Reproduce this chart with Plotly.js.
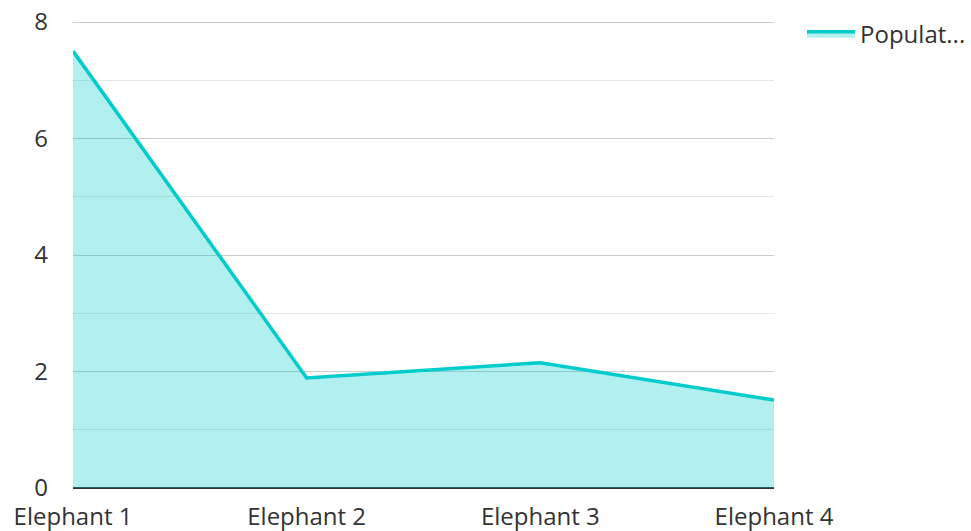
<!DOCTYPE html>
<html>
<head>
<meta charset="utf-8">
<script src="https://cdn.plot.ly/plotly-3.0.1.min.js"></script>
<style>html,body{margin:0;padding:0;background:#fff;}#chart{width:971px;height:531px;}</style>
</head>
<body>
<div id="chart"></div>
<script>
const categories = ["Elephant 1", "Elephant 2", "Elephant 3", "Elephant 4"];
const population = [7.5, 1.89, 2.15, 1.51];
const seriesName = "Populat...";
const yTicks = [0, 2, 4, 6, 8];

const trace = {
  x: categories,
  y: population,
  name: seriesName,
  type: "scatter",
  mode: "lines",
  fill: "tozeroy",
  fillcolor: "rgba(0,204,204,0.3)",
  line: {color: "rgb(0,204,204)", width: 3.5},
  showlegend: true
};

const yMax = yTicks[yTicks.length - 1];

const layout = {
  width: 971, height: 531,
  margin: {l: 73, r: 197, t: 22, b: 43, autoexpand: false},
  paper_bgcolor: "#fff", plot_bgcolor: "#fff",
  font: {family: "Open Sans, sans-serif", size: 24, color: "#333"},
  showlegend: true,
  legend: {x: 1.04, xanchor: "left", y: 1.022, yanchor: "top", itemwidth: 48,
           font: {size: 24, color: "#333"}, bgcolor: "rgba(0,0,0,0)"},
  xaxis: {
    type: "category", range: [0, 3], showgrid: false, zeroline: false,
    showline: false, ticks: "", fixedrange: true, ticklabelstandoff: 12,
    tickfont: {size: 24, color: "#333"}
  },
  yaxis: {
    range: [0, yMax], tickvals: yTicks, ticktext: yTicks.map(String),
    showgrid: true, gridcolor: "#cccccc", gridwidth: 1,
    minor: {dtick: 1, tick0: 0, showgrid: true, gridcolor: "#e6e6e6", gridwidth: 1},
    zeroline: true, zerolinecolor: "#333", zerolinewidth: 2,
    showline: false, ticks: "", ticklabelstandoff: 24,
    tickfont: {size: 24, color: "#333"}
  },
  shapes: [{
    type: "line", xref: "paper", yref: "y", x0: 0, x1: 1, y0: yMax, y1: yMax,
    line: {color: "#cccccc", width: 2}, layer: "below"
  }]
};
Plotly.newPlot("chart", [trace], layout, {displayModeBar: false, staticPlot: true});
</script>
</body>
</html>
